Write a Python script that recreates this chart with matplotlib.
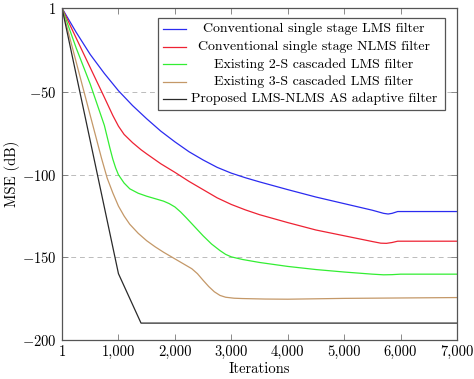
import matplotlib
matplotlib.use("Agg")
import matplotlib.pyplot as plt
from matplotlib.patches import Rectangle
from matplotlib.lines import Line2D
from matplotlib.ticker import FuncFormatter

plt.rcParams["font.family"] = "serif"
plt.rcParams["font.serif"] = ["cmr10", "DejaVu Serif"]
plt.rcParams["mathtext.fontset"] = "cm"
plt.rcParams["axes.formatter.use_mathtext"] = True

# curves (iteration, MSE in dB)
lms_it = [1, 250, 500, 750, 1000, 1250, 1500, 1750, 2000, 2250, 2500, 2750, 3000, 3250,
          3500, 4000, 4500, 5000, 5500, 5700, 5780, 5850, 5950, 7000]
lms_mse = [1, -13.5, -27, -38.5, -49, -58, -66, -73.5, -80, -86, -91, -95.5, -99, -101.8,
           -104.3, -109, -113.5, -117.5, -121.5, -123.4, -123.8, -123.4, -122.3, -122.3]

nlms_it = [1, 250, 500, 750, 900, 1000, 1100, 1250, 1400, 1500, 1750, 2000, 2250, 2500,
           2750, 3000, 3250, 3500, 4000, 4500, 5000, 5500, 5650, 5750, 5850, 5950, 7000]
nlms_mse = [1, -17, -35, -53, -64, -70.5, -75.5, -80.5, -84.8, -87.3, -93.3, -98.5, -104, -109,
            -114, -118, -121.3, -124.2, -129, -133.5, -137, -140.5, -141.5, -141.6, -141.1, -140.3, -140.3]

two_s_it = [1, 250, 500, 750, 850, 900, 950, 1000, 1100, 1200, 1350, 1500, 1650, 1800, 1900,
            2000, 2100, 2200, 2350, 2500, 2650, 2800, 2900, 3000, 3200, 3500, 4000, 4500,
            5000, 5500, 5700, 5850, 6000, 7000]
two_s_mse = [1, -23, -45, -70, -84, -90.5, -95.8, -100, -105, -108.5, -111.2, -113, -114.5, -116,
             -117.5, -119.5, -122.5, -126, -131.5, -137, -142, -146, -148.3, -149.8, -151.4,
             -153.2, -155.6, -157.5, -159, -160.3, -160.7, -160.6, -160.3, -160.3]

three_s_it = [1, 200, 400, 600, 700, 800, 900, 1000, 1100, 1200, 1350, 1500, 1650, 1800, 2000,
              2150, 2300, 2400, 2500, 2600, 2700, 2800, 2900, 3050, 3200, 3600, 4000, 5000, 7000]
three_s_mse = [1, -25, -51, -77, -90, -102, -111, -119, -125, -130, -135.5, -140, -143.7, -147,
               -151, -154, -157, -160, -164, -167.8, -171, -173.2, -174.3, -174.9, -175.1,
               -175.4, -175.5, -175, -174.5]

prop_it = [1, 1000, 1400, 7000]
prop_mse = [1, -160, -190, -190]

labels = [
    "Conventional single stage LMS filter",
    "Conventional single stage NLMS filter",
    "Existing 2-S cascaded LMS filter",
    "Existing 3-S cascaded LMS filter",
    "Proposed LMS-NLMS AS adaptive filter",
]
colors = ["#2b2bf0", "#ee2233", "#33ee33", "#c49868", "#2a2a2a"]

x_ticks = [1, 1000, 2000, 3000, 4000, 5000, 6000, 7000]
y_ticks = [1, -50, -100, -150, -200]

fig = plt.figure(figsize=(4.74, 3.79), dpi=100)
ax = fig.add_axes([0.131, 0.104, 0.833, 0.874])

series = [(lms_it, lms_mse), (nlms_it, nlms_mse), (two_s_it, two_s_mse),
          (three_s_it, three_s_mse), (prop_it, prop_mse)]
for (xs, ys), c in zip(series, colors):
    ax.plot(xs, ys, color=c, lw=0.9, solid_joinstyle="round")

ax.set_xlim(1, 7000)
ax.set_ylim(-200, 1)
ax.set_xticks(x_ticks)
ax.set_yticks(y_ticks)


def fmt_x(v, pos):
    return "{:,}".format(int(round(v)))


def fmt_y(v, pos):
    v = int(round(v))
    return "$-%d$" % abs(v) if v < 0 else "$%d$" % v


ax.xaxis.set_major_formatter(FuncFormatter(fmt_x))
ax.yaxis.set_major_formatter(FuncFormatter(fmt_y))
ax.tick_params(direction="in", top=True, right=True, length=4, width=0.6,
               color="#777777", labelsize=10.5, pad=4)
for s in ax.spines.values():
    s.set_color("#555555")
    s.set_linewidth(0.9)

for yv in [-50, -100, -150]:
    ax.axhline(yv, color="#bbbbbb", lw=0.7, ls=(0, (5, 4)), zorder=0)

ax.set_xlabel("Iterations", fontsize=10.5, labelpad=2)
ax.set_ylabel("MSE (dB)", fontsize=10.5, labelpad=1)

# legend drawn by hand so the text is centred like pgfplots
ax.add_patch(Rectangle((0.243, 0.693), 0.727, 0.278, transform=ax.transAxes,
                       facecolor="white", edgecolor="#555555", lw=0.9, zorder=5))
rows = [0.937, 0.884, 0.831, 0.778, 0.726]
for lab, c, ry in zip(labels, colors, rows):
    ax.add_line(Line2D([0.256, 0.314], [ry, ry], transform=ax.transAxes,
                       color=c, lw=0.9, zorder=6))
    ax.text(0.638, ry, lab, transform=ax.transAxes, ha="center", va="center",
            fontsize=10, zorder=6)

fig.savefig("out.png", dpi=100)
